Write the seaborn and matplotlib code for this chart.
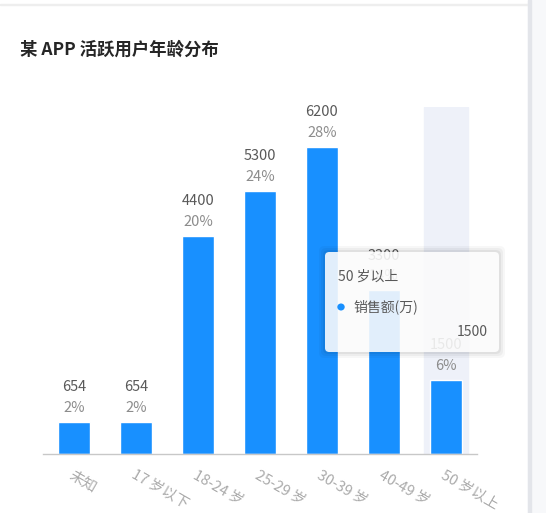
import matplotlib
matplotlib.use('Agg')
import matplotlib.pyplot as plt
import seaborn as sns
import pandas as pd
from matplotlib.patches import FancyBboxPatch, Rectangle

# data
age_groups = ['未知', '17 岁以下', '18-24 岁', '25-29 岁', '30-39 岁', '40-49 岁', '50 岁以上']
users = [654, 654, 4400, 5300, 6200, 3300, 1500]
percents = ['2%', '2%', '20%', '24%', '28%', '14%', '6%']
hover_group = '50 岁以上'
series_name = '销售额(万)'

df = pd.DataFrame({'age': age_groups, 'users': users})

sns.set_style('white')
plt.rcParams['font.family'] = ['Noto Sans CJK SC', 'DejaVu Sans']

W, H = 546, 513
fig = plt.figure(figsize=(W / 100, H / 100), dpi=100)

def fx(px):
    return px / W

def fy(py):
    return 1 - py / H

# plot area in pixels: x 43-477, y 107-454
ax = fig.add_axes([fx(43), fy(454), fx(477) - fx(43), fy(107) - fy(454)])

bar_color = '#1890ff'
hover_idx = age_groups.index(hover_group)
ax.axvspan(hover_idx - 0.36, hover_idx + 0.36, color='#eef1f9', zorder=0)

sns.barplot(data=df, x='age', y='users', color=bar_color, width=0.52,
            saturation=1, ax=ax, zorder=2)

ax.set_ylim(0, 7000)
ax.set_xlim(-0.5, len(age_groups) - 0.5)
ax.set_xlabel('')
ax.set_ylabel('')
ax.set_yticks([])
for s in ['top', 'right', 'left']:
    ax.spines[s].set_visible(False)
ax.spines['bottom'].set_color('#c8c8c8')
ax.spines['bottom'].set_linewidth(1)
ax.tick_params(axis='x', length=0, pad=10)
ax.set_xticks(range(len(age_groups)))
ax.set_xticklabels(age_groups, rotation=-30, ha='left', rotation_mode='anchor',
                   color='#aaaaaa', fontsize=10.5)
for lab in ax.get_xticklabels():
    lab.set_x(lab.get_position()[0])

for i, (v, p) in enumerate(zip(users, percents)):
    ax.annotate(p, (i, v), xytext=(0, 5), textcoords='offset points',
                ha='center', va='bottom', fontsize=10.5, color='#8c8c8c', zorder=3)
    ax.annotate(str(v), (i, v), xytext=(0, 20), textcoords='offset points',
                ha='center', va='bottom', fontsize=10.5, color='#595959', zorder=3)

# title
fig.text(fx(20), fy(50), '某 APP 活跃用户年龄分布', fontsize=12.5, fontweight='bold',
         color='#262626', ha='left', va='center')

# page chrome: top border and right scroll strip
fig.add_artist(Rectangle((0, fy(5)), 1, fy(4) - fy(5), transform=fig.transFigure,
                         color='#eeeeee', zorder=0))
fig.add_artist(Rectangle((fx(528), 0), fx(546) - fx(528), 1, transform=fig.transFigure,
                         color='#f7f8fa', zorder=0))
fig.add_artist(Rectangle((fx(528), 0), fx(3), 1, transform=fig.transFigure,
                         color='#e3e5ea', zorder=0))

# tooltip with soft shadow
tx0, ty0, tx1, ty1 = 325, 252, 499, 352
for k, a in [(6, 0.03), (4, 0.04), (2, 0.05)]:
    fig.add_artist(FancyBboxPatch((fx(tx0 - k), fy(ty1 + k)), fx(tx1 - tx0 + 2 * k),
                                  fy(ty0) - fy(ty1) + 2 * k / H,
                                  boxstyle='round,pad=0,rounding_size=0.01',
                                  transform=fig.transFigure, facecolor='#000000',
                                  edgecolor='none', alpha=a, zorder=10))
fig.add_artist(FancyBboxPatch((fx(tx0), fy(ty1)), fx(tx1 - tx0), fy(ty0) - fy(ty1),
                              boxstyle='round,pad=0,rounding_size=0.008',
                              transform=fig.transFigure, facecolor='white',
                              edgecolor='none', alpha=0.88, zorder=11))
fig.text(fx(338), fy(277), hover_group, fontsize=10, color='#595959',
         ha='left', va='center', zorder=12)
fig.add_artist(plt.Circle((fx(341), fy(307)), 3 / W, transform=fig.transFigure,
                          color=bar_color, zorder=12))
fig.text(fx(353), fy(307), series_name, fontsize=10, color='#595959',
         ha='left', va='center', zorder=12)
fig.text(fx(488), fy(332), str(users[hover_idx]), fontsize=10, color='#595959',
         ha='right', va='center', zorder=12)

fig.savefig('out.png', dpi=100)
